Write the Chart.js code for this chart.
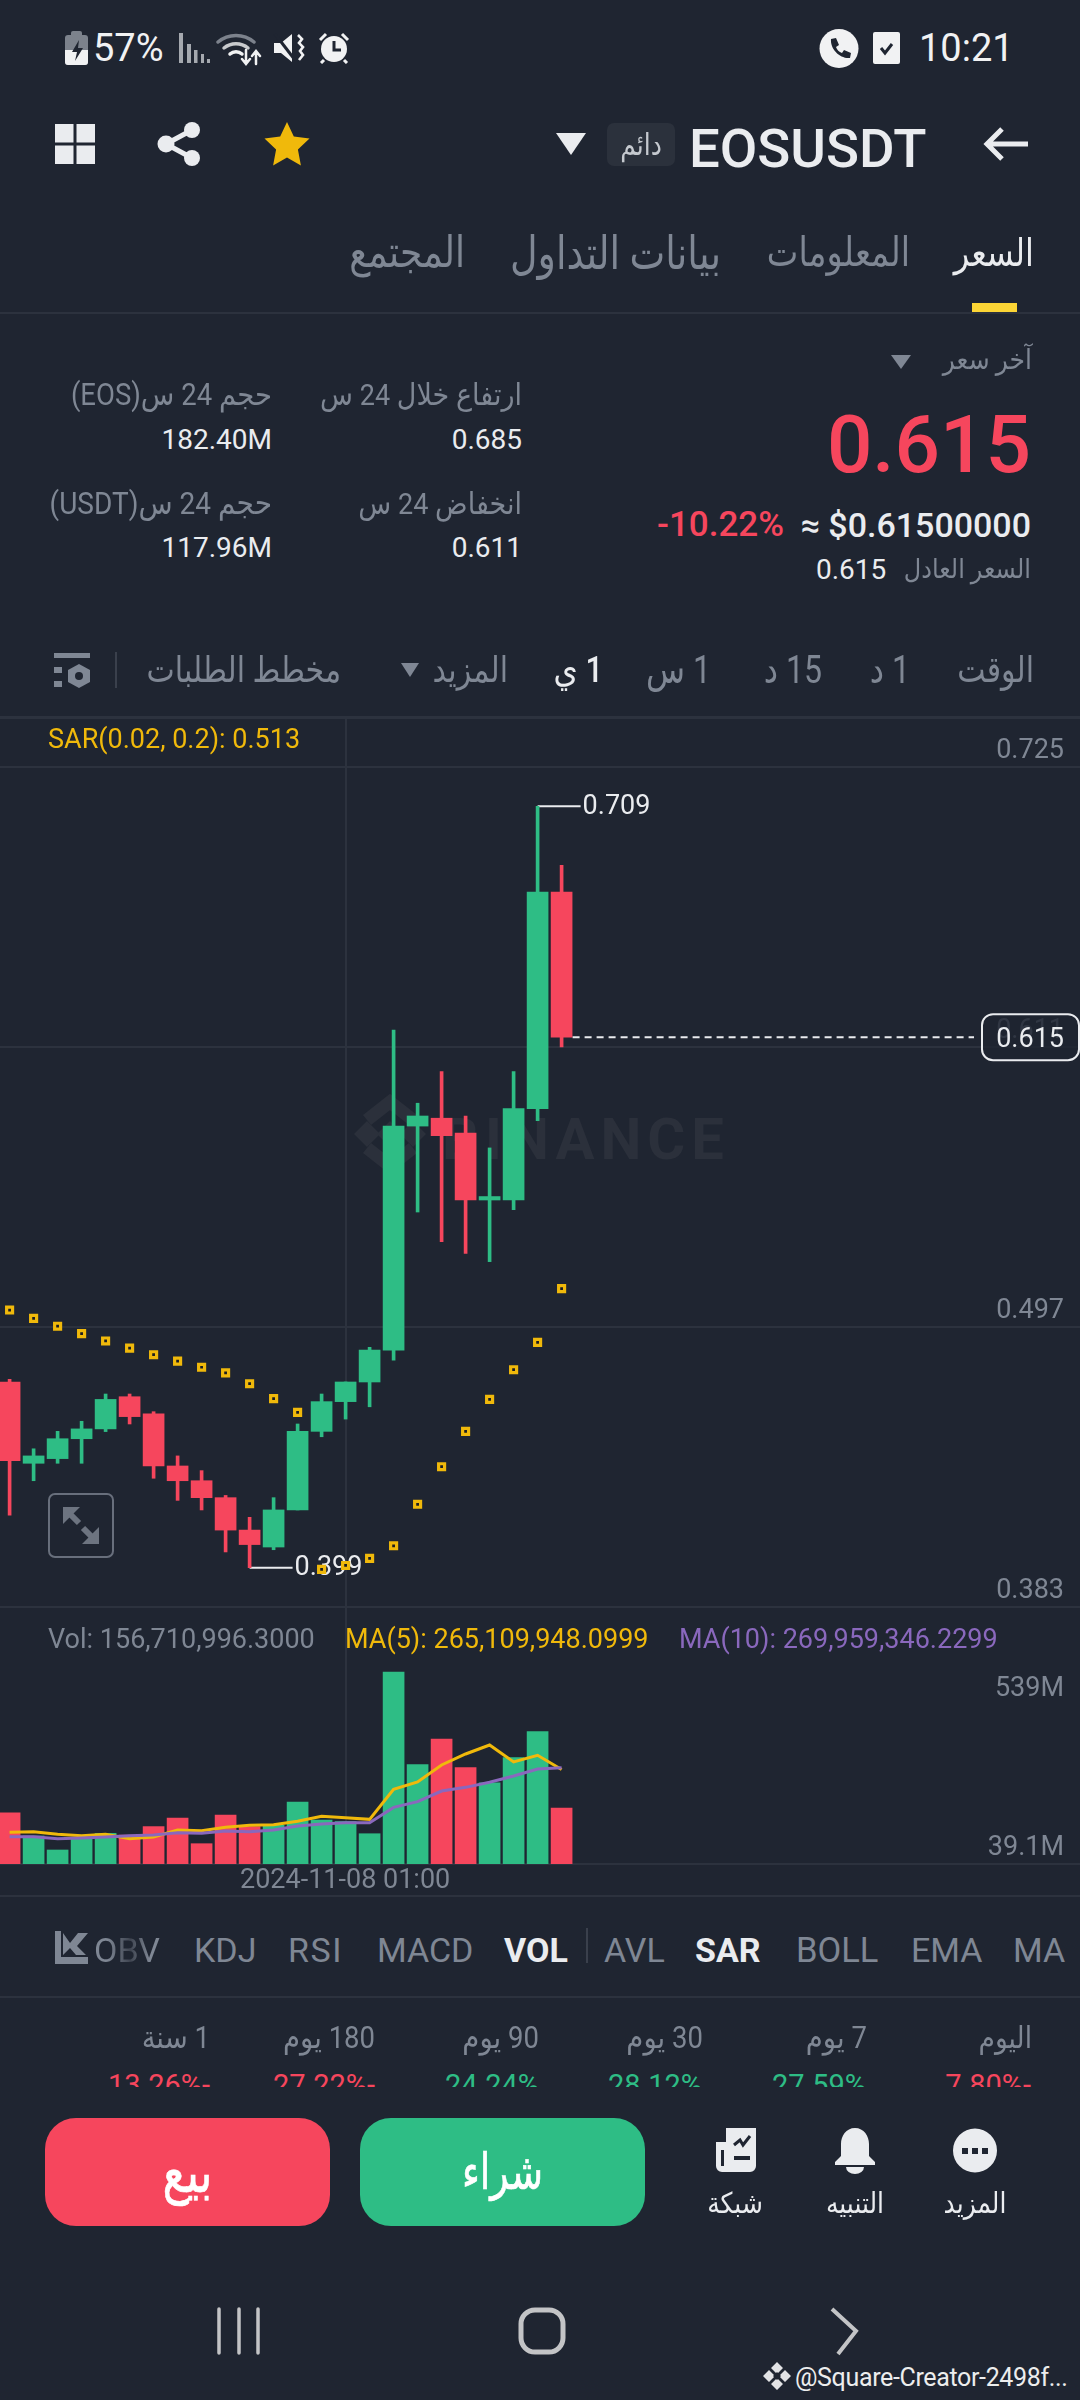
<!DOCTYPE html>
<html lang="ar">
<head>
<meta charset="utf-8">
<title>EOSUSDT</title>
<script src="https://cdn.jsdelivr.net/npm/chart.js@4/dist/chart.umd.js"></script>
<style>
  html, body { margin: 0; padding: 0; background: #1f2531; }
  #screen { position: relative; width: 1080px; height: 2400px; overflow: hidden; background: #1f2531;
            font-family: Roboto, "DejaVu Sans", sans-serif; color: #eaecef; }
  .t { position: absolute; white-space: nowrap; line-height: 40px; height: 40px; }
  .r { direction: rtl; text-align: right; transform: scaleY(1.12); }
  .tall { transform: scaleY(1.2); }
  .g { color: #7f8794; }
  .rule { position: absolute; left: 0; width: 1080px; background: #2c323e; }
  svg, canvas { position: absolute; }
  #perf { position: absolute; left: 0; top: 2060px; width: 1080px; height: 27px; overflow: hidden; }
  .btn { position: absolute; top: 2118px; width: 285px; height: 108px; border-radius: 31px; color: #fff; }
  .btn span { display: block; font-size: 38px; line-height: 108px; text-align: center; transform: scaleY(1.3); -webkit-text-stroke: .5px #fff; }
</style>
</head>
<body>
<div id="screen">

  <!-- status bar -->
  <svg style="left:62px;top:30px" width="30" height="36" viewBox="0 0 30 36">
    <rect x="3" y="5" width="23" height="30" rx="3" fill="#7c828c"/><rect x="9" y="1" width="11" height="6" rx="2" fill="#7c828c"/>
    <path d="M3 20h23v12a3 3 0 0 1-3 3H6a3 3 0 0 1-3-3z" fill="#f1f2f3"/>
    <path d="M17 10l-7 12h5l-2 9 8-13h-5z" fill="#1f2531"/>
  </svg>
  <div class="t" style="left:93px;top:28px;font-size:38px;color:#f1f2f3">57%</div>
  <svg style="left:178px;top:32px" width="32" height="32" viewBox="0 0 32 32" fill="#a5a9af">
    <rect x="1" y="1" width="4" height="30"/><rect x="9" y="12" width="4" height="19"/><rect x="16" y="18" width="3.5" height="13"/><rect x="23" y="22" width="3" height="9"/><rect x="29" y="27" width="3" height="4"/>
  </svg>
  <svg style="left:216px;top:30px" width="46" height="36" viewBox="0 0 46 36" fill="none" stroke-linecap="round">
    <path d="M2 12a28 28 0 0 1 36 0" stroke="#7c828c" stroke-width="3.5"/><path d="M8 18a19 19 0 0 1 24 0" stroke="#c8cacd" stroke-width="3.5"/><path d="M14 24a9 9 0 0 1 12 0" stroke="#f1f2f3" stroke-width="3.5"/>
    <path d="M30 20v13M26 29l4 5 4-5M40 34V22M36 26l4-5 4 5" stroke="#f1f2f3" stroke-width="2.5"/>
  </svg>
  <svg style="left:273px;top:32px" width="32" height="32" viewBox="0 0 32 32">
    <path d="M1 11h7l11-9v28l-11-9H1z" fill="#f1f2f3"/><path d="M2 2l20 26" stroke="#1f2531" stroke-width="3"/>
    <path d="M25 3l4 4-3 4 4 4-3 4 3 4-4 5" fill="none" stroke="#f1f2f3" stroke-width="2.6"/>
  </svg>
  <svg style="left:318px;top:32px" width="32" height="32" viewBox="0 0 32 32">
    <circle cx="16" cy="17" r="13" fill="#f1f2f3"/><path d="M16 9v9h7" fill="none" stroke="#1f2531" stroke-width="3"/>
    <path d="M2 8l6-6M30 8l-6-6M6 28l-3 3M26 28l3 3" stroke="#f1f2f3" stroke-width="3"/>
  </svg>
  <svg style="left:819px;top:29px" width="40" height="39" viewBox="0 0 40 39">
    <circle cx="20" cy="19.5" r="19.5" fill="#f1f2f3"/>
    <path d="M12 10l5-1 3 7-3 2c1 3 3 5 6 6l2-3 7 3-1 5c-10 1-20-9-19-19z" fill="#1f2531"/>
  </svg>
  <svg style="left:873px;top:32px" width="27" height="32" viewBox="0 0 27 32">
    <rect width="27" height="32" rx="2" fill="#f1f2f3"/><path d="M8 16l4 5 7-9" fill="none" stroke="#1f2531" stroke-width="3"/>
  </svg>
  <div class="t" style="left:919px;top:28px;font-size:38px;color:#f1f2f3">10:21</div>

  <!-- header -->
  <svg style="left:55px;top:124px" width="40" height="40" viewBox="0 0 40 40" fill="#eaecef">
    <rect width="18.5" height="18.5"/><rect x="21.5" width="18.5" height="18.5"/><rect y="21.5" width="18.5" height="18.5"/><rect x="21.5" y="21.5" width="18.5" height="18.5"/>
  </svg>
  <svg style="left:157px;top:122px" width="44" height="44" viewBox="0 0 44 44">
    <path d="M35 8L9 22l26 14" fill="none" stroke="#eaecef" stroke-width="5"/><circle cx="35" cy="8" r="8" fill="#eaecef"/><circle cx="9" cy="22" r="8.5" fill="#eaecef"/><circle cx="35" cy="36" r="8" fill="#eaecef"/>
  </svg>
  <svg style="left:264px;top:121px" width="46" height="45" viewBox="0 0 46 45">
    <path d="M23 1l6.8 14.6 15.7 2-11.600 10.900 3 15.900L23 36.500 9.100 44.400l3-15.900L.5 17.600l15.700-2z" fill="#f0b90b"/>
  </svg>
  <svg style="left:556px;top:133px" width="30" height="22" viewBox="0 0 30 22"><path d="M0 0h30L15 22z" fill="#eaecef"/></svg>
  <div style="position:absolute;left:607px;top:123px;width:68px;height:43px;border-radius:7px;background:#2b313c"></div>
  <div class="t r tall" style="left:607px;top:125px;width:68px;text-align:center;font-size:25px;color:#c5c9cf">دائم</div>
  <div class="t" style="left:689px;top:126px;font-size:54.5px;font-weight:500;line-height:44px;height:44px;color:#eaecef">EOSUSDT</div>
  <svg style="left:983px;top:126px" width="46" height="36" viewBox="0 0 46 36"><path d="M45 18H4M19 3L4 18l15 15" fill="none" stroke="#eaecef" stroke-width="5"/></svg>

  <!-- tabs -->
  <div class="t r tall" style="right:46px;top:233px;font-size:32px">السعر</div>
  <div class="t r tall g" style="right:170px;top:233px;font-size:33.5px">المعلومات</div>
  <div class="t r tall g" style="right:359px;top:233px;font-size:38px">بيانات التداول</div>
  <div class="t r tall g" style="right:615px;top:233px;font-size:36px">المجتمع</div>
  <div style="position:absolute;left:972px;top:303px;width:45px;height:9px;background:#fcd535"></div>
  <div class="rule" style="top:312px;height:2px"></div>

  <!-- price summary -->
  <div class="t r g" style="right:48px;top:340px;font-size:25px">آخر سعر</div>
  <svg style="left:891px;top:355px" width="20" height="14" viewBox="0 0 20 14"><path d="M0 0h20L10 14z" fill="#7f8794"/></svg>
  <div class="t" style="right:49px;top:425px;font-size:80px;font-weight:500;color:#f6465d">0.615</div>
  <div class="t" style="left:657px;top:505px;font-size:35px;font-weight:500;color:#f6465d">-10.22%</div>
  <div class="t" style="right:49px;top:505px;font-size:34px;font-weight:500">≈ $0.61500000</div>
  <div class="t r g" style="right:49px;top:549px;font-size:24px">السعر العادل</div>
  <div class="t" style="left:816px;top:550px;font-size:28px">0.615</div>

  <div class="t r g" style="right:558px;top:375px;font-size:27px">ارتفاع خلال 24 س</div>
  <div class="t" style="right:558px;top:420px;font-size:28px">0.685</div>
  <div class="t r g" style="right:808px;top:375px;font-size:27.5px">حجم 24 س(EOS)</div>
  <div class="t" style="right:808px;top:420px;font-size:28px">182.40M</div>
  <div class="t r g" style="right:558px;top:484px;font-size:27px">انخفاض 24 س</div>
  <div class="t" style="right:558px;top:528px;font-size:28px">0.611</div>
  <div class="t r g" style="right:808px;top:484px;font-size:28px">حجم 24 س(USDT)</div>
  <div class="t" style="right:808px;top:528px;font-size:28px">117.96M</div>

  <!-- timeframes -->
  <div class="t r tall g" style="right:46px;top:650px;font-size:30px">الوقت</div>
  <div class="t r tall g" style="right:170px;top:650px;font-size:32px">1 د</div>
  <div class="t r tall g" style="right:258px;top:650px;font-size:32px">15 د</div>
  <div class="t r tall g" style="right:369px;top:650px;font-size:32px">1 س</div>
  <div class="t r tall" style="right:477px;top:650px;font-size:31px;font-weight:500">1 ي</div>
  <div class="t r tall g" style="right:572px;top:650px;font-size:30px">المزيد</div>
  <svg style="left:401px;top:663px" width="18" height="14" viewBox="0 0 18 14"><path d="M0 0h18L9 14z" fill="#7f8794"/></svg>
  <div class="t r tall g" style="right:739px;top:650px;font-size:30px">مخطط الطلبات</div>
  <div style="position:absolute;left:115px;top:652px;width:2px;height:36px;background:#3a404c"></div>
  <svg style="left:54px;top:653px" width="37" height="36" viewBox="0 0 37 36" fill="#7f8794">
    <rect width="36" height="5"/><rect y="14" width="8" height="6"/><rect y="28" width="8" height="6"/>
    <path d="M25 11l11 6v12l-11 6-11-6V17z"/><circle cx="25" cy="23" r="4" fill="#1f2531"/>
  </svg>
  <div class="rule" style="top:716px;height:3px"></div>

  <!-- chart legends -->
  <canvas id="priceChart" width="1080" height="892" style="left:0;top:717px"></canvas>
  <div class="rule" style="top:1863px;height:2px"></div>
  <canvas id="volChart" width="1080" height="257" style="left:0;top:1607px"></canvas>
  <div class="t" style="left:48px;top:719px;font-size:27px;color:#f0b90b">SAR(0.02, 0.2): 0.513</div>
  <div class="t g" style="left:48px;top:1619px;font-size:27px">Vol: 156,710,996.3000</div>
  <div class="t" style="left:345px;top:1619px;font-size:27px;color:#f0b90b">MA(5): 265,109,948.0999</div>
  <div class="t" style="left:679px;top:1619px;font-size:27px;color:#8a68bd">MA(10): 269,959,346.2299</div>
  <div class="t g" style="left:240px;top:1859px;font-size:27px">2024-11-08 01:00</div>
  <div class="rule" style="top:1895px;height:2px"></div>

  <svg style="left:48px;top:1493px" width="66" height="65" viewBox="0 0 66 65">
    <rect x="1" y="1" width="64" height="63" rx="6" fill="none" stroke="#686f7c" stroke-width="2"/>
    <path d="M15 14h17L15 31zM51 51H34l17-17z" fill="#6d7480"/>
    <path d="M20 19l11 11M46 46L35 35" stroke="#6d7480" stroke-width="6"/>
  </svg>

  <!-- indicators -->
  <svg style="left:55px;top:1931px" width="33" height="33" viewBox="0 0 33 33" fill="#7f8794">
    <path d="M0 0h6v26h27v7H0z"/><path d="M8 2l7 10 8-10h10L22 15l9 9H21l-6-7-7 7z"/>
  </svg>
  <div class="t g" style="left:94px;top:1930px;font-size:34px;background:linear-gradient(90deg,#7f8794 20%,#3f4551 55%,#7f8794 85%);-webkit-background-clip:text;color:transparent">OBV</div>
  <div class="t g" style="left:194px;top:1930px;font-size:34px">KDJ</div>
  <div class="t g" style="left:288px;top:1930px;font-size:34px;letter-spacing:1.5px">RSI</div>
  <div class="t g" style="left:377px;top:1930px;font-size:34px">MACD</div>
  <div class="t" style="left:504px;top:1930px;font-size:34px;font-weight:bold">VOL</div>
  <div style="position:absolute;left:586px;top:1928px;width:2px;height:35px;background:#3a404c"></div>
  <div class="t g" style="left:604px;top:1930px;font-size:34px">AVL</div>
  <div class="t" style="left:695px;top:1930px;font-size:34px;font-weight:bold">SAR</div>
  <div class="t g" style="left:796px;top:1930px;font-size:34.5px">BOLL</div>
  <div class="t g" style="left:911px;top:1930px;font-size:34px">EMA</div>
  <div class="t g" style="left:1013px;top:1930px;font-size:34px">MA</div>
  <div class="rule" style="top:1996px;height:2px"></div>

  <!-- performance strip -->
  <div class="t r g" style="right:48px;top:2018px;font-size:26.5px">اليوم</div>
  <div class="t r g" style="right:213px;top:2018px;font-size:27.5px">7 يوم</div>
  <div class="t r g" style="right:377px;top:2018px;font-size:27.5px">30 يوم</div>
  <div class="t r g" style="right:541px;top:2018px;font-size:27.5px">90 يوم</div>
  <div class="t r g" style="right:705px;top:2018px;font-size:27.5px">180 يوم</div>
  <div class="t r g" style="right:870px;top:2018px;font-size:27.5px">1 سنة</div>
  <div id="perf">
    <div class="t" style="right:49px;top:5px;font-size:29px;color:#f6465d">7.80%-</div>
    <div class="t" style="right:214px;top:5px;font-size:29px;color:#2ebd85">27.59%</div>
    <div class="t" style="right:378px;top:5px;font-size:29px;color:#2ebd85">28.12%</div>
    <div class="t" style="right:541px;top:5px;font-size:29px;color:#2ebd85">24.24%</div>
    <div class="t" style="right:705px;top:5px;font-size:29px;color:#f6465d">27.22%-</div>
    <div class="t" style="right:870px;top:5px;font-size:29px;color:#f6465d">13.26%-</div>
  </div>

  <!-- actions -->
  <div class="btn" style="left:45px;background:#f6465d"><span style="font-size:45px">بيع</span></div>
  <div class="btn" style="left:360px;background:#2ebd85"><span>شراء</span></div>
  <svg style="left:716px;top:2128px" width="40" height="45" viewBox="0 0 40 45" fill="#eaecef">
    <path d="M10 0h30v38a6 6 0 0 1-6 6H6a6 6 0 0 1-6-6V14h10z"/>
    <path d="M18 17l6-5 3 5 7-9" fill="none" stroke="#1f2531" stroke-width="3"/><rect x="5" y="22" width="3" height="16" fill="#1f2531"/><rect x="18" y="28" width="16" height="4" fill="#1f2531"/>
  </svg>
  <svg style="left:835px;top:2128px" width="40" height="46" viewBox="0 0 40 46" fill="#eaecef">
    <path d="M20 0c9 0 14 8 14 16v12l6 6v3H0v-3l6-6V16C6 8 11 0 20 0z"/><path d="M11 39h18a9 7 0 0 1-18 0z"/>
  </svg>
  <svg style="left:953px;top:2128px" width="44" height="45" viewBox="0 0 44 45">
    <circle cx="22" cy="22.500" r="22" fill="#eaecef"/><rect x="9" y="20" width="6" height="6" fill="#1f2531"/><rect x="19" y="20" width="6" height="6" fill="#1f2531"/><rect x="29" y="20" width="6" height="6" fill="#1f2531"/>
  </svg>
  <div class="t" style="left:675px;width:120px;text-align:center;top:2184px;font-size:25px;direction:rtl;transform:scaleY(1.15)">شبكة</div>
  <div class="t" style="left:795px;width:120px;text-align:center;top:2184px;font-size:25px;direction:rtl;transform:scaleY(1.15)">التنبيه</div>
  <div class="t" style="left:915px;width:120px;text-align:center;top:2184px;font-size:25px;direction:rtl;transform:scaleY(1.15)">المزيد</div>

  <!-- nav bar -->
  <svg style="left:210px;top:2300px" width="660" height="62" viewBox="0 0 660 62" fill="none" stroke="#c3c4c6" stroke-linecap="round">
    <path d="M9 9v44M29 9v44M48 9v44" stroke-width="3.500"/>
    <rect x="311" y="10" width="42" height="42" rx="14" stroke-width="5"/>
    <path d="M622 9l24 22-18 23" stroke-width="4" stroke-linecap="butt"/>
  </svg>
  <svg style="left:763px;top:2362px" width="28" height="28" viewBox="0 0 28 28" fill="#e2e3e5">
    <path d="M14 0l6 6-6 6-6-6zM6 8l6 6-6 6-6-6zM22 8l6 6-6 6-6-6zM14 16l6 6-6 6-6-6z"/><path d="M14 10l4 4-4 4-4-4z" fill="#1f2531"/>
  </svg>
  <div class="t" style="left:795px;top:2358px;font-size:25px;color:#eceded;letter-spacing:-.35px">@Square-Creator-2498f...</div>
</div>

<script>
// price axis
const priceTicks = [0.725, 0.611, 0.497, 0.383];

// daily candles, oldest first
const opens  = [0.4746, 0.4415, 0.4434, 0.4515, 0.4555, 0.4686, 0.4616, 0.4404, 0.4344, 0.4275, 0.4143, 0.4074,
                0.4225, 0.4545, 0.4666, 0.4746, 0.4876, 0.5788, 0.5820, 0.5759, 0.5487, 0.5487, 0.5859, 0.6741];
const closes = [0.4426, 0.4445, 0.4515, 0.4555, 0.4675, 0.4605, 0.4404, 0.4344, 0.4275, 0.4143, 0.4084, 0.4225,
                0.4545, 0.4666, 0.4746, 0.4876, 0.5788, 0.5829, 0.5749, 0.5487, 0.5501, 0.5859, 0.6741, 0.6150];
const highs  = [0.4757, 0.4474, 0.4545, 0.4586, 0.4697, 0.4697, 0.4625, 0.4445, 0.4385, 0.4284, 0.4195, 0.4275,
                0.4575, 0.4697, 0.4746, 0.4887, 0.6179, 0.5881, 0.6010, 0.5829, 0.5699, 0.6010, 0.7090, 0.6850];
const lows   = [0.4204, 0.4344, 0.4415, 0.4415, 0.4544, 0.4575, 0.4354, 0.4264, 0.4225, 0.4054, 0.3990, 0.4063,
                0.4225, 0.4523, 0.4595, 0.4645, 0.4835, 0.5438, 0.5317, 0.5269, 0.5236, 0.5448, 0.5810, 0.6110];

const sarValues = [0.5039, 0.5005, 0.4973, 0.4943, 0.4913, 0.4884, 0.4857, 0.4831, 0.4806, 0.4783, 0.4739, 0.4678,
                   0.4622, 0.3983, 0.3999, 0.4028, 0.4079, 0.4248, 0.4401, 0.4545, 0.4675, 0.4796, 0.4907, 0.5126];

// volume in millions
const volumes = [144, 78.6, 39.3, 75, 86, 81, 105, 129, 57, 137.6, 105, 108.6,
                 174, 123.5, 119, 85, 539, 279, 351, 271, 228, 299, 371.5, 156.7];
const ma5     = [88.9, 90.8, 83.3, 79.5, 83.3, 71.1, 75.8, 95.5, 93.6, 102.9, 108.6, 110.4,
                 119.8, 133.8, 130.1, 125.4, 209.6, 230.2, 277.9, 308.8, 334.1, 286.4, 305.1, 265.1];
const ma10    = [76.7, 76.7, 71.1, 73, 75.8, 79.5, 81.4, 88, 86.1, 92.6, 90.8, 95.5,
                 106.7, 112.3, 116, 116, 159, 175, 204.9, 215.2, 229.3, 247, 266.7, 270];
const volTickLabels = ['539M', '39.1M'];
const volTickValues = [539, 39.1];

const crosshairIndex = 14;
const GREEN = '#2ebd85', RED = '#f6465d', YELLOW = '#f0b90b', PURPLE = '#8a68bd';
const GRID = '#2c323e', TEXT = '#eaecef', MUTED = '#7f8794';
const FONT = '27px Roboto';

const candleColors = opens.map((o, i) => closes[i] >= o ? GREEN : RED);
const at = values => values.map((y, i) => ({ x: i, y }));
const ranges = (a, b) => a.map((v, i) => ({ x: i, y: [v, b[i]] }));

// one x scale for both panels, the candles are 24px apart
const xScale = {
    type: 'linear',
    min: -0.4,
    max: 44.6,
    offset: false,
    afterBuildTicks: s => { s.ticks = [{ value: crosshairIndex }]; },
    ticks: { display: false },
    border: { display: false },
    grid: { color: GRID, lineWidth: 2, drawTicks: false, offset: false }
};

const basePlugins = { legend: { display: false }, tooltip: { enabled: false } };

function drawWatermark(ctx) {
    ctx.save();
    ctx.fillStyle = '#2b303b';
    ctx.font = 'bold 58px Roboto';
    ctx.letterSpacing = '6px';
    ctx.textBaseline = 'middle';
    ctx.fillText('BINANCE', 442, 427);
    ctx.letterSpacing = '0px';
    const cx = 390, cy = 417;
    const diamond = (x, y, r) => {
        ctx.beginPath();
        ctx.moveTo(x, y - r); ctx.lineTo(x + r, y); ctx.lineTo(x, y + r); ctx.lineTo(x - r, y);
        ctx.closePath();
        ctx.fill();
    };
    diamond(cx - 23, cy, 13);
    diamond(cx + 23, cy, 13);
    diamond(cx, cy, 13);
    ctx.lineWidth = 13;
    ctx.strokeStyle = '#2b303b';
    ctx.beginPath();
    ctx.moveTo(cx - 23, cy - 14); ctx.lineTo(cx, cy - 32); ctx.lineTo(cx + 23, cy - 14);
    ctx.moveTo(cx - 23, cy + 14); ctx.lineTo(cx, cy + 32); ctx.lineTo(cx + 23, cy + 14);
    ctx.stroke();
    ctx.restore();
}

function drawExtreme(chart, index, value, length) {
    const { ctx, scales: { x, y } } = chart;
    const px = x.getPixelForValue(index), py = y.getPixelForValue(value);
    ctx.save();
    ctx.strokeStyle = TEXT;
    ctx.lineWidth = 2;
    ctx.beginPath();
    ctx.moveTo(px, py);
    ctx.lineTo(px + length, py);
    ctx.stroke();
    ctx.fillStyle = TEXT;
    ctx.font = FONT;
    ctx.textBaseline = 'middle';
    ctx.fillText(value.toFixed(3), px + length + 2, py + 1);
    ctx.restore();
}

const priceOverlay = {
    id: 'priceOverlay',
    beforeDatasetsDraw(chart) {
        drawWatermark(chart.ctx);
        const hi = Math.max(...highs), lo = Math.min(...lows);
        drawExtreme(chart, highs.indexOf(hi), hi, 43);
        drawExtreme(chart, lows.indexOf(lo), lo, 43);
    },
    afterDraw(chart) {
        const { ctx, scales: { x, y } } = chart;
        const last = closes.length - 1;
        const py = y.getPixelForValue(closes[last]);
        ctx.save();
        ctx.strokeStyle = TEXT;
        ctx.lineWidth = 2;
        ctx.setLineDash([7, 5]);
        ctx.beginPath();
        ctx.moveTo(x.getPixelForValue(last) + 11, py);
        ctx.lineTo(974, py);
        ctx.stroke();
        ctx.setLineDash([]);
        ctx.beginPath();
        ctx.roundRect(982, py - 23, 97, 46, 11);
        ctx.fillStyle = 'rgba(31,37,49,0.82)';
        ctx.fill();
        ctx.stroke();
        ctx.fillStyle = TEXT;
        ctx.font = FONT;
        ctx.textAlign = 'right';
        ctx.textBaseline = 'middle';
        ctx.fillText(closes[last].toFixed(3), 1064, py + 3);
        ctx.restore();
    }
};

new Chart(document.getElementById('priceChart'), {
    type: 'bar',
    data: {
        datasets: [
            { type: 'line', label: 'SAR', data: at(sarValues), showLine: false, order: 0,
              pointStyle: 'rect', pointRadius: 4.2, pointBorderWidth: 3.2,
              pointBackgroundColor: '#1a1c22', pointBorderColor: YELLOW },
            { label: 'Body', data: ranges(opens, closes), backgroundColor: candleColors, barThickness: 21, order: 1 },
            { label: 'Wick', data: ranges(lows, highs), backgroundColor: candleColors, barThickness: 3, order: 2 }
        ]
    },
    options: {
        responsive: false,
        animation: false,
        events: [],
        datasets: { bar: { grouped: false } },
        layout: { padding: 0, autoPadding: false },
        plugins: basePlugins,
        scales: {
            x: xScale,
            y: {
                position: 'right',
                min: 0.382168,
                max: 0.745358,
                afterBuildTicks: s => { s.ticks = priceTicks.map(value => ({ value })); },
                afterFit: s => { s.paddingTop = 0; s.paddingBottom = 0; },
                border: { display: false },
                grid: { color: GRID, lineWidth: 2, drawTicks: false },
                ticks: {
                    mirror: true,
                    padding: -16,
                    labelOffset: -15.5,
                    color: MUTED,
                    font: { family: 'Roboto', size: 27 },
                    callback: v => v.toFixed(3)
                }
            }
        }
    },
    plugins: [priceOverlay]
});

const volOverlay = {
    id: 'volOverlay',
    afterDraw(chart) {
        const { ctx, scales: { y } } = chart;
        ctx.save();
        ctx.fillStyle = MUTED;
        ctx.font = FONT;
        ctx.textAlign = 'right';
        ctx.textBaseline = 'middle';
        ctx.fillText(volTickLabels[0], 1064, y.getPixelForValue(volTickValues[0]) + 17);
        ctx.fillText(volTickLabels[1], 1064, y.getPixelForValue(volTickValues[1]) - 2);
        ctx.restore();
    }
};

new Chart(document.getElementById('volChart'), {
    type: 'bar',
    data: {
        datasets: [
            { type: 'line', label: 'MA(10)', data: at(ma10), borderColor: PURPLE, borderWidth: 3, pointRadius: 0, tension: 0, order: 0 },
            { type: 'line', label: 'MA(5)', data: at(ma5), borderColor: YELLOW, borderWidth: 3, pointRadius: 0, tension: 0, order: 1 },
            { label: 'Vol', data: at(volumes), backgroundColor: candleColors, barThickness: 21, order: 2 }
        ]
    },
    options: {
        responsive: false,
        animation: false,
        events: [],
        layout: { padding: 0, autoPadding: false },
        plugins: basePlugins,
        scales: {
            x: xScale,
            y: { display: false, min: 0, max: 721.5 }
        }
    },
    plugins: [volOverlay]
});
</script>
</body>
</html>
